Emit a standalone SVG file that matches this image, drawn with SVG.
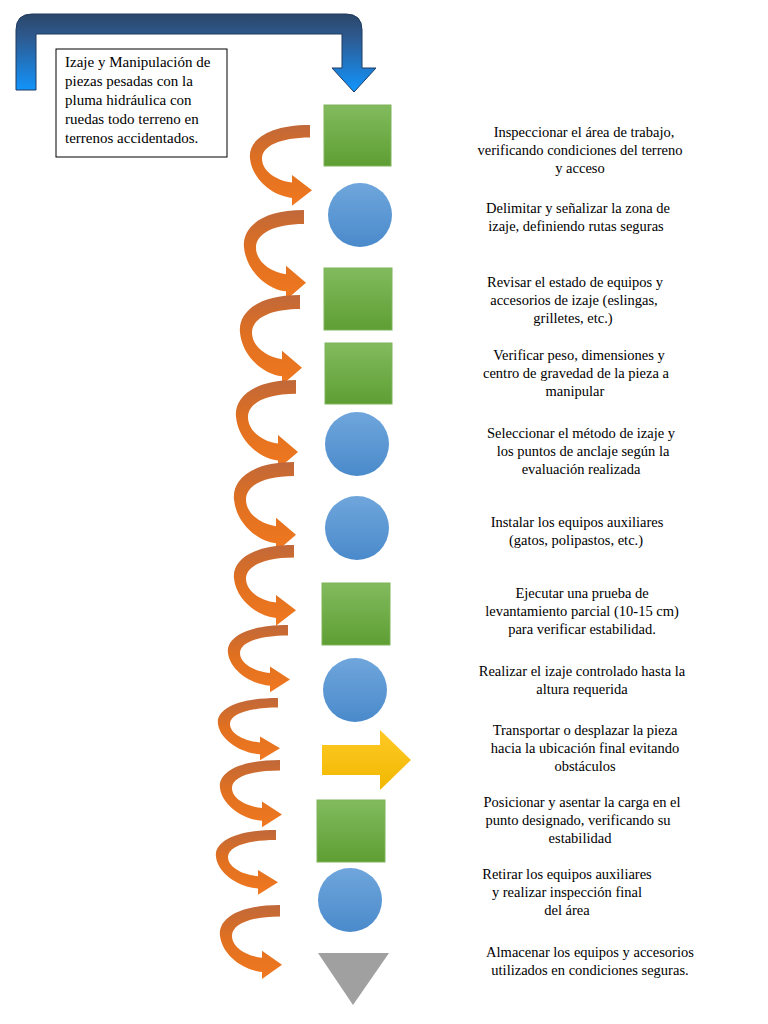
<svg xmlns="http://www.w3.org/2000/svg" width="768" height="1024" viewBox="0 0 768 1024" font-family="'Liberation Serif', 'Times New Roman', 'DejaVu Serif', serif">
<defs>
<linearGradient id="gg" x1="0" y1="0" x2="0" y2="1"><stop offset="0" stop-color="#82bb5e"/><stop offset="1" stop-color="#5e9e33"/></linearGradient>
<linearGradient id="bg" x1="0" y1="0" x2="0" y2="1"><stop offset="0" stop-color="#6fa6dc"/><stop offset="1" stop-color="#4a8acb"/></linearGradient>
<linearGradient id="yg" x1="0" y1="0" x2="0" y2="1"><stop offset="0" stop-color="#ffc926"/><stop offset="1" stop-color="#f0b800"/></linearGradient>
<linearGradient id="ag" x1="0" y1="0" x2="0" y2="1"><stop offset="0" stop-color="#2c4669"/><stop offset="0.3" stop-color="#2d5a90"/><stop offset="1" stop-color="#1196ff"/></linearGradient>
<linearGradient id="og" x1="0" y1="0" x2="0" y2="1"><stop offset="0" stop-color="#c0683a"/><stop offset="0.45" stop-color="#e07020"/><stop offset="1" stop-color="#f07820"/></linearGradient>
<path id="ca" d="M60,0 C15,0 -2,18 0,35 C2,56 22,74 42,76 L42,84 L62,68 L42,52 L42,60 C26,58 12,48 12,35 C12,22 30,13 60,13 Z"/>
</defs>
<style>
text{font-family:'Liberation Serif','Times New Roman','DejaVu Serif',serif;font-size:14.5px;fill:#000}
.r{text-anchor:middle}
.sq{fill:url(#gg);stroke:#7fb45a;stroke-width:1}
.ci{fill:url(#bg)}
.c use{fill:url(#og)}
</style>
<g id="connectors" class="c">
<path d="M16,90 L16,30 Q16,14 32,14 L346,14 Q362,14 362,30 L362,68 L376,68 L354,92 L332,68 L342,68 L342,34 L36,34 L36,90 Z" fill="url(#ag)" stroke="#1f3a60" stroke-width="1"/>
<use href="#ca" transform="translate(250,125) scale(1,0.96)"/>
<use href="#ca" transform="translate(244,210) scale(1,1.07)"/>
<use href="#ca" transform="translate(240,295) scale(1,1.07)"/>
<use href="#ca" transform="translate(236,380) scale(1,1.06)"/>
<use href="#ca" transform="translate(234,462) scale(1,1.07)"/>
<use href="#ca" transform="translate(234,545) scale(1,0.96)"/>
<use href="#ca" transform="translate(228,625) scale(1,0.8)"/>
<use href="#ca" transform="translate(218,698) scale(1,0.74)"/>
<use href="#ca" transform="translate(220,760) scale(1,0.8)"/>
<use href="#ca" transform="translate(216,830) scale(1,0.77)"/>
<use href="#ca" transform="translate(220,905) scale(1,0.88)"/>
</g>
<g id="title"><rect x="56" y="49" width="171" height="108" fill="#fff" stroke="#000" stroke-width="1"/>
<text x="65" y="67" style="font-size:15px">Izaje y Manipulación de</text>
<text x="65" y="86" style="font-size:15px">piezas pesadas con la</text>
<text x="65" y="105" style="font-size:15px">pluma hidráulica con</text>
<text x="65" y="124" style="font-size:15px">ruedas todo terreno en</text>
<text x="65" y="143" style="font-size:15px">terrenos accidentados.</text></g>
<g id="n1"><rect class="sq" x="324" y="105" width="67" height="61"/><text class="r" x="584" y="137">Inspeccionar el área de trabajo,</text><text class="r" x="580" y="155">verificando condiciones del terreno</text><text class="r" x="580" y="173">y acceso</text></g>
<g id="n2"><circle class="ci" cx="360" cy="215" r="32"/><text class="r" x="578" y="213">Delimitar y señalizar la zona de</text><text class="r" x="576" y="231">izaje, definiendo rutas seguras</text></g>
<g id="n3"><rect class="sq" x="324" y="268" width="68" height="62"/><text class="r" x="575" y="287">Revisar el estado de equipos y</text><text class="r" x="574" y="305">accesorios de izaje (eslingas,</text><text class="r" x="573" y="323">grilletes, etc.)</text></g>
<g id="n4"><rect class="sq" x="325" y="343" width="67" height="61"/><text class="r" x="579" y="360">Verificar peso, dimensiones y</text><text class="r" x="576" y="378">centro de gravedad de la pieza a</text><text class="r" x="575" y="396">manipular</text></g>
<g id="n5"><circle class="ci" cx="357" cy="444" r="32"/><text class="r" x="581" y="438">Seleccionar el método de izaje y</text><text class="r" x="583" y="456">los puntos de anclaje según la</text><text class="r" x="581" y="474">evaluación realizada</text></g>
<g id="n6"><circle class="ci" cx="357" cy="528" r="32"/><text class="r" x="577" y="527">Instalar los equipos auxiliares</text><text class="r" x="576" y="545">(gatos, polipastos, etc.)</text></g>
<g id="n7"><rect class="sq" x="322" y="583" width="68" height="62"/><text class="r" x="582" y="598">Ejecutar una prueba de</text><text class="r" x="582" y="616">levantamiento parcial (10-15 cm)</text><text class="r" x="582" y="634">para verificar estabilidad.</text></g>
<g id="n8"><circle class="ci" cx="355" cy="690" r="32"/><text class="r" x="582" y="676">Realizar el izaje controlado hasta la</text><text class="r" x="582" y="694">altura requerida</text></g>
<g id="n9"><path d="M322,745 L380,745 L380,730 L411,760 L380,790 L380,775 L322,775 Z" fill="url(#yg)"/><text class="r" x="585" y="735">Transportar o desplazar la pieza</text><text class="r" x="585" y="753">hacia la ubicación final evitando</text><text class="r" x="585" y="771">obstáculos</text></g>
<g id="n10"><rect class="sq" x="317" y="800" width="68" height="62"/><text class="r" x="582" y="807">Posicionar y asentar la carga en el</text><text class="r" x="578" y="825">punto designado, verificando su</text><text class="r" x="580" y="843">estabilidad</text></g>
<g id="n11"><circle class="ci" cx="350" cy="900" r="32"/><text class="r" x="567" y="879">Retirar los equipos auxiliares</text><text class="r" x="567" y="897">y realizar inspección final</text><text class="r" x="567" y="915">del área</text></g>
<g id="n12"><path d="M318,953 L389,953 L353,1005 Z" fill="#a0a0a0"/><text class="r" x="590" y="957">Almacenar los equipos y accesorios</text><text class="r" x="590" y="975">utilizados en condiciones seguras.</text></g>
</svg>
